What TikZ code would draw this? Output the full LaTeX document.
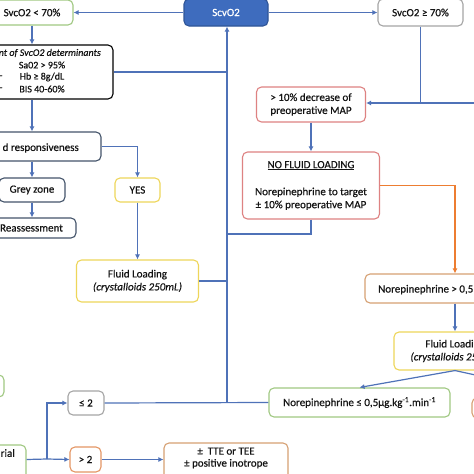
\documentclass[tikz,border=0pt]{standalone}
\usepackage{fontspec}
\setmainfont{Carlito}[FakeBold=0.5]
\usetikzlibrary{arrows.meta}
\definecolor{cblue}{RGB}{79,114,184}
\definecolor{corange}{RGB}{237,125,49}
\definecolor{bluefill}{RGB}{62,108,190}
\definecolor{bluedark}{RGB}{47,85,151}
\definecolor{lgreen}{RGB}{160,200,130}
\definecolor{cgray}{RGB}{165,165,165}
\definecolor{cred}{RGB}{222,130,130}
\definecolor{cyellow}{RGB}{238,214,90}
\definecolor{corg}{RGB}{228,150,100}
\definecolor{cbrown}{RGB}{214,160,115}
\definecolor{dbg}{RGB}{68,84,106}
\definecolor{txt}{RGB}{20,20,20}
\begin{document}
\begin{tikzpicture}[x=1pt,y=-1pt,
  bx/.style={rounded corners=5pt, line width=1.1pt, inner sep=0pt, fill=white, align=center, text=txt,
     font=\fontsize{11}{13}\selectfont},
  lbl/.style={inner sep=0pt, text=txt, font=\fontsize{11}{13}\selectfont, align=center},
  sml/.style={inner sep=0pt, text=txt, font=\fontsize{10}{12}\selectfont},
  conn/.style={draw=cblue, line width=1.2pt},
  arr/.style={conn, -{Latex[length=5pt,width=5pt]}},
  oarr/.style={draw=corange, line width=1.4pt, -{Latex[length=5pt,width=5pt]}}]
\useasboundingbox (0,0) rectangle (474,474);
\clip (0,0) rectangle (474,474);
\fill[white] (0,0) rectangle (474,474);

% top row
\node[bx, draw=lgreen, minimum width=82pt, minimum height=25pt] (lt70) at (32,12.5) {SvcO2 < 70\%};
\node[bx, draw=bluedark, fill=bluefill, text=white, minimum width=84pt, minimum height=27pt] (scv) at (226,12.5) {ScvO2};
\node[bx, draw=cgray, minimum width=85pt, minimum height=27pt] (ge70) at (420.5,12.5) {SvcO2 ≥ 70\%};

% determinants
\node[bx, draw=black, minimum width=133pt, minimum height=54pt] (det) at (46.5,72) {};
\node[sml, anchor=east, font=\fontsize{10}{12}\selectfont\itshape] (detT) at (101,53) {nt of SvcO2 determinants};
\node[sml] (detA) at (42,65) {Sa02 > 95\%};
\node[sml] (detB) at (42,77) {Hb ≥ 8g/dL};
\node[sml] (detC) at (42,89) {BIS 40-60\%};
\node[sml] (dashB) at (1,77) {-};
\node[sml] (dashC) at (1,89) {-};

% left column
\node[bx, draw=dbg, minimum width=121pt, minimum height=29pt] (resp) at (40.5,146.5) {};
\node[lbl, anchor=east] (respT) at (79,148) {d responsiveness};
\node[bx, draw=dbg, minimum width=66pt, minimum height=24pt] (grey) at (32,190) {Grey zone};
\node[bx, draw=dbg, minimum width=96pt, minimum height=20pt] (reass) at (28,228) {};
\node[lbl] (reassT) at (31.5,228) {Reassessment};
\node[bx, draw=cyellow, minimum width=45pt, minimum height=24pt] (yes) at (137.5,190) {YES};
\node[bx, draw=cyellow, minimum width=122pt, minimum height=42pt] (fl1) at (137.5,281) {Fluid Loading\\\textit{(crystalloids 250mL)}};

% right side
\node[bx, draw=cred, minimum width=109pt, minimum height=35pt] (dec) at (311,104.5) {> 10\% decrease of\\preoperative MAP};
\node[bx, draw=cred, minimum width=137pt, minimum height=67pt] (nofl) at (311,185.5) {\underline{NO FLUID LOADING}\\[14pt]Norepinephrine to target\\± 10\% preoperative MAP};
\node[bx, draw=cbrown, minimum width=195pt, minimum height=29pt] (negt) at (462.5,288.5) {};
\node[lbl, anchor=west] (negtT) at (378,289) {Norepinephrine > 0,5µg.kg\textsuperscript{-1}.min\textsuperscript{-1}};
\node[bx, draw=cyellow, minimum width=122pt, minimum height=38pt] (fl2) at (455,351) {Fluid Loading\\\textit{(crystalloids 250mL)}};
\node[bx, draw=lgreen, minimum width=181pt, minimum height=29pt] (nele) at (359.5,402.5) {Norepinephrine ≤ 0,5µg.kg\textsuperscript{-1}.min\textsuperscript{-1}};
\node[bx, draw=cbrown, minimum width=58pt, minimum height=20pt] (br) at (501,408) {};

% bottom left
\node[bx, draw=lgreen, minimum width=44pt, minimum height=22pt] (lg) at (-18,386) {};
\node[bx, draw=lgreen, minimum width=66pt, minimum height=50pt] (rial) at (-7,470) {};
\node[lbl, anchor=east] (rialT) at (15,453) {rial};
\node[bx, draw=cgray, minimum width=36pt, minimum height=24pt] (le2) at (86,403) {≤ 2};
\node[bx, draw=corg, minimum width=31pt, minimum height=25pt] (gt2) at (85.5,459.5) {> 2};
\node[bx, draw=cbrown, minimum width=124pt, minimum height=54pt] (tte) at (226,470) {};
\node[lbl, font=\fontsize{11}{12}\selectfont] (tteT) at (226,458) {±\ \ TTE or TEE\\± positive inotrope};

% coordinates
\coordinate (rin) at (480,103);
\coordinate (mvb) at (227,402);
\coordinate (mv1) at (227,234);
\coordinate (cx) at (32,0);
\coordinate (rout) at (480,376);
\coordinate (br1) at (47,459);

% connectors
\draw[arr] (scv.west) -- (lt70.east);
\draw[arr] (scv.east) -- (ge70.west);
\draw[conn] (ge70.south) -- (ge70.south |- rin);
\draw[arr] (rin) -- (rin -| dec.east);
\draw[arr] (dec.south) -- (nofl.north);
\draw[conn] (nofl.south) |- (mv1);
\draw[arr] (mvb) -- (mvb |- scv.south);
\draw[conn] (nele.west) -- (le2.east);
\draw[conn] (det.east) -- (det.east -| mvb);
\draw[conn] (fl1.east) -- (fl1.east -| mvb);
\draw[arr] (lt70.south) -- (lt70.south |- det.north);
\draw[arr] (det.south -| cx) -- (resp.north -| cx);
\draw[arr] (resp.south -| cx) -- (grey.north);
\draw[arr] (grey.south) -- (reass.north -| grey.south);
\draw[arr] (resp.east) -| (yes.north);
\draw[arr] (yes.south) -- (yes.south |- fl1.north);
\draw[oarr] (nofl.east) -| (fl2.north |- negt.north);
\draw[arr] (negt.south -| fl2.north) -- (fl2.north);
\draw[arr] (fl2.south) -- (nele.north);
\draw[conn] (fl2.south) -- (rout);
\draw[conn] (gt2.west -| rial.east) -- (br1);
\draw[arr] (br1) |- (le2.west);
\draw[arr] (br1) -- (gt2.west);
\draw[arr] (gt2.east) -- (gt2.east -| tte.west);
\end{tikzpicture}
\end{document}
